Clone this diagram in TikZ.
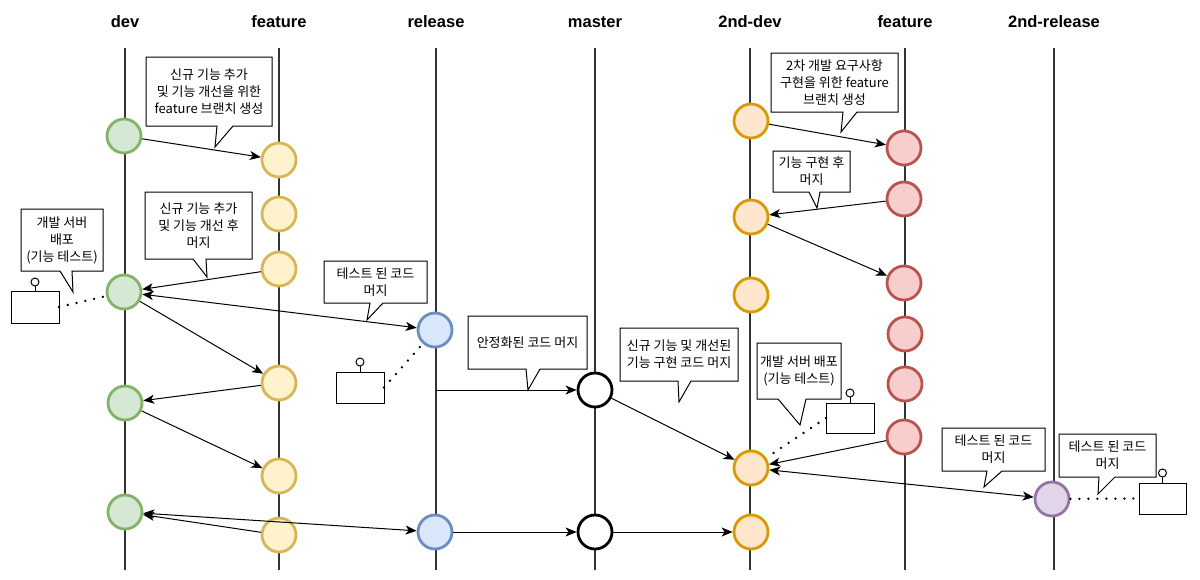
\documentclass[tikz,border=0pt]{standalone}
\usepackage{fontspec}
\setmainfont{Noto Sans CJK KR}
\newfontfamily\headfont{Liberation Sans}
\usetikzlibrary{arrows.meta}
\definecolor{gF}{HTML}{D5E8D4}\definecolor{gD}{HTML}{82B366}
\definecolor{yF}{HTML}{FFF2CC}\definecolor{yD}{HTML}{D6B656}
\definecolor{bF}{HTML}{DAE8FC}\definecolor{bD}{HTML}{6C8EBF}
\definecolor{oF}{HTML}{FFE6CC}\definecolor{oD}{HTML}{D79B00}
\definecolor{rF}{HTML}{F8CECC}\definecolor{rD}{HTML}{B85450}
\definecolor{pF}{HTML}{E1D5E7}\definecolor{pD}{HTML}{9673A6}
\tikzset{
 lane/.style={line width=1.3pt,draw=black!80},
 head/.style={font=\headfont\fontsize{16.5}{19}\selectfont\bfseries},
 cnode/.style={circle,minimum size=34pt,inner sep=0pt,line width=2.8pt},
 gnode/.style={cnode,fill=gF,draw=gD}, ynode/.style={cnode,fill=yF,draw=yD},
 bnode/.style={cnode,fill=bF,draw=bD}, onode/.style={cnode,fill=oF,draw=oD},
 rnode/.style={cnode,fill=rF,draw=rD}, pnode/.style={cnode,fill=pF,draw=pD},
 wnode/.style={cnode,fill=white,draw=black},
 arr/.style={-{Stealth[length=11pt,width=9pt,inset=3pt]},line width=1pt},
 barr/.style={{Stealth[length=11pt,width=9pt,inset=3pt]}-{Stealth[length=11pt,width=9pt,inset=3pt]},line width=1pt},
 callout/.style={draw=black,fill=white,line width=1pt},
 ctext/.style={align=center,font=\fontsize{13}{17}\selectfont},
 dots/.style={line width=2.6pt,line cap=round,dash pattern=on 0pt off 9pt},
 sbox/.style={draw=black,fill=white,line width=1pt},
}
\newcommand\mycallout[9]{%
 \draw[callout] (#1,#2) -- (#3,#2) -- (#3,#4) -- (#6,#4) -- (#7,#8) -- (#5,#4) -- (#1,#4) -- cycle;
 \node[ctext] at ({(#1+#3)/2},{(#2+#4)/2}) {#9};}
\newcommand\mysbox[6]{%
 \draw[sbox] (#2,#3) rectangle (#4,#5);
 \draw[line width=1pt] ({(#2+#4)/2},#3) -- ({(#2+#4)/2},#6+4);
 \node[circle,draw,fill=white,line width=1pt,minimum size=8pt,inner sep=0pt] (#1) at ({(#2+#4)/2},#6) {};
 \coordinate (#1r) at (#4,{(#3+#5)/2});
 \coordinate (#1l) at (#2,{(#3+#5)/2});}
\begin{document}
\begin{tikzpicture}[x=1pt,y=-1pt]
\useasboundingbox (0,0) rectangle (1200,579);
\foreach \x/\t/\n in {125/dev/L1,279/feature/L2,436/release/L3,595/master/L4,750/2nd-dev/L5,905/feature/L6,1054/2nd-release/L7}{
 \draw[lane] (\x,48) -- (\x,570);
 \node[head] (\n) at (\x,22) {\t};
}
\node[gnode] (d1) at (124,136) {}; \node[gnode] (d2) at (124,292) {};
\node[gnode] (d3) at (125,403) {}; \node[gnode] (d4) at (125,512) {};
\node[ynode] (f1) at (279,160) {}; \node[ynode] (f2) at (279,214) {};
\node[ynode] (f3) at (279,269) {}; \node[ynode] (f4) at (279,383) {};
\node[ynode] (f5) at (279,476) {}; \node[ynode] (f6) at (279,535) {};
\node[bnode] (r1) at (435,330) {}; \node[bnode] (r2) at (435,532) {};
\node[wnode] (m1) at (595,390) {}; \node[wnode] (m2) at (595,532) {};
\node[onode] (s1) at (751,121) {}; \node[onode] (s2) at (751,217) {};
\node[onode] (s3) at (751,295) {}; \node[onode] (s4) at (751,468) {};
\node[onode] (s5) at (751,532) {};
\node[rnode] (g1) at (904,148) {}; \node[rnode] (g2) at (904,199) {};
\node[rnode] (g3) at (904,283) {}; \node[rnode] (g4) at (905,334) {};
\node[rnode] (g5) at (905,384) {}; \node[rnode] (g6) at (904,437) {};
\node[pnode] (p1) at (1052,499) {};
\coordinate (rl) at (436,390);
\draw[arr] (d1) -- (f1);
\draw[arr] (f3) -- (d2);
\draw[barr] (d2) -- (r1);
\draw[arr] (d2) -- (f4);
\draw[arr] (f4) -- (d3);
\draw[arr] (d3) -- (f5);
\draw[arr] (f6) -- (d4);
\draw[barr] (d4) -- (r2);
\draw[arr] (rl) -- (m1);
\draw[arr] (r2) -- (m2);
\draw[arr] (m2) -- (s5);
\draw[arr] (m1) -- (s4);
\draw[arr] (g6) -- (s4);
\draw[barr] (s4) -- (p1);
\draw[arr] (s1) -- (g1);
\draw[arr] (g2) -- (s2);
\draw[arr] (s2) -- (g3);
\mysbox{b1}{11}{291}{59}{323}{282}
\mysbox{b2}{336}{372}{384}{403}{362}
\mysbox{b3}{826}{403}{874}{433}{393}
\mysbox{b4}{1139}{483}{1186}{514}{473}
\draw[dots] (b1r) -- (d2);
\draw[dots] (b2r) -- (r1);
\draw[dots] (b3l) -- (s4);
\draw[dots] (p1) -- (b4l);
\mycallout{146}{57}{272}{126}{217}{233}{215}{147}{신규 기능 추가\\및 기능 개선을 위한\\feature 브랜치 생성}
\mycallout{145}{192}{252}{259}{193}{206}{207}{277}{신규 기능 추가\\및 기능 개선 후\\머지}
\mycallout{21}{209}{103}{271}{60}{72}{73}{292}{개발 서버\\배포\\(기능 테스트)}
\mycallout{324}{261}{427}{303}{370}{383}{367}{320}{테스트 된 코드\\머지}
\mycallout{468}{316}{587}{369}{526}{540}{528}{390}{안정화된 코드 머지}
\mycallout{620}{328}{738}{381}{678}{691}{679}{402}{신규 기능 및 개선된\\기능 구현 코드 머지}
\mycallout{757}{343}{841}{399}{778}{806}{800}{425}{개발 서버 배포\\(기능 테스트)}
\mycallout{771}{53}{898}{112}{843}{857}{841}{132}{2차 개발 요구사항\\구현을 위한 feature\\브랜치 생성}
\mycallout{773}{151}{850}{192}{809}{820}{817}{208}{기능 구현 후\\머지}
\mycallout{942}{428}{1045}{471}{987}{1002}{984}{487}{테스트 된 코드\\머지}
\mycallout{1059}{434}{1156}{477}{1099}{1115}{1098}{494}{테스트 된 코드\\머지}
\end{tikzpicture}
\end{document}
